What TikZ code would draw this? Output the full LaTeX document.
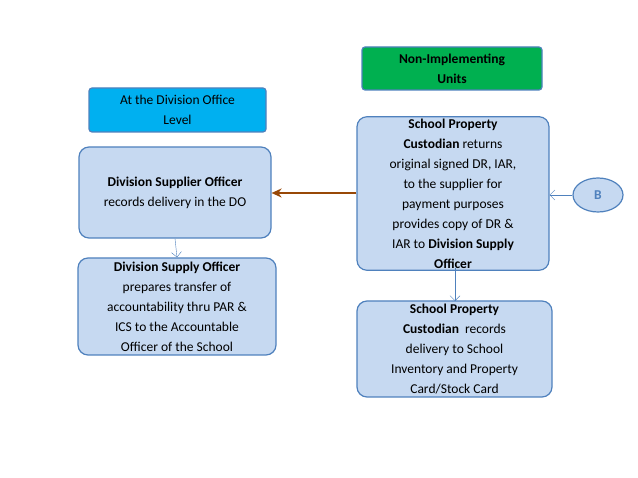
\documentclass[tikz,border=0pt]{standalone}
\usepackage{fontspec}
\setmainfont{Carlito}
\usetikzlibrary{arrows.meta,shapes.geometric}
\definecolor{bfill}{HTML}{C6D9F1}
\definecolor{bline}{HTML}{4F81BD}
\definecolor{gfill}{HTML}{00B050}
\definecolor{cfill}{HTML}{00B0F0}
\definecolor{brn}{HTML}{984807}
\begin{document}
\begin{tikzpicture}[x=1pt,y=-1pt,
  box/.style={draw=bline,line width=1.2pt,fill=bfill,rounded corners=10pt,align=center,font=\fontsize{13.5}{20}\selectfont,inner sep=2pt},
  hdr/.style={draw=bline,line width=1.2pt,rounded corners=3pt,align=center,font=\fontsize{13.5}{20}\selectfont,inner sep=2pt}]
\useasboundingbox (0,0) rectangle (638,478);
\node[hdr,fill=gfill,minimum width=180pt,minimum height=43pt,font=\bfseries\fontsize{13.5}{20}\selectfont] (nu) at (452,68.5) {Non-Implementing\\Units};
\node[hdr,fill=cfill,minimum width=177pt,minimum height=44pt] (dl) at (177.5,110) {At the Division Office\\Level};
\node[box,minimum width=192pt,minimum height=91pt] (d1) at (175,192.5) {\textbf{Division Supplier Officer}\\records delivery in the DO};
\node[box,minimum width=198pt,minimum height=97pt] (d2) at (177,306.5) {\textbf{Division Supply Officer}\\prepares transfer of\\accountability thru PAR \&\\ICS to the Accountable\\Officer of the School};
\node[box,minimum width=192pt,minimum height=149pt] (s1) at (453,193.5) {\textbf{School Property}\\\textbf{Custodian} returns\\original signed DR, IAR,\\to the supplier for\\payment purposes\\provides copy of DR \&\\IAR to \textbf{Division Supply}\\\textbf{Officer}};
\node[box,minimum width=195pt,minimum height=96pt] (s2) at (454.5,349) {\textbf{School Property}\\\textbf{Custodian}\ \ records\\delivery to School\\Inventory and Property\\Card/Stock Card};
\node[draw=bline,line width=1.2pt,fill=bfill,ellipse,minimum width=50pt,minimum height=34pt,text=bline,font=\bfseries\fontsize{13.5}{16}\selectfont] (b) at (598,195) {B};
\draw[brn,line width=2pt,-{Stealth[length=10pt,width=9pt]}] (s1.west|-0,193) -- (d1.east|-0,193);
\draw[bline,-{Straight Barb[length=5pt]}] (b.west) -- (s1.east|-b.west);
\draw[bline,-{Straight Barb[length=5pt]}] (d1.south) -- (d2.north);
\draw[bline,-{Straight Barb[length=5pt]}] (455,268) -- (455,301);
\end{tikzpicture}
\end{document}
